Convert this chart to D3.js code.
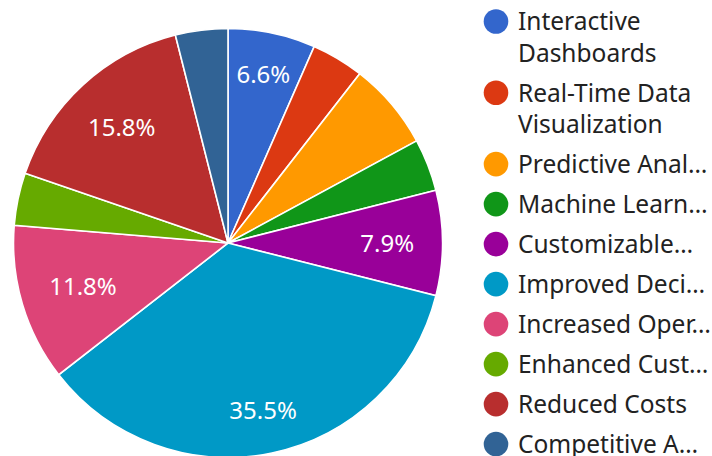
<!DOCTYPE html>
<html>
  <head>
    <meta charset="utf-8">
    <title>Benefits pie</title>
    <script src="https://cdnjs.cloudflare.com/ajax/libs/d3/7.8.5/d3.min.js"></script>
    <style>
      body { margin: 0; background: #fff; }
      svg text { font-family: "Noto Sans", "Open Sans", sans-serif; }
    </style>
  </head>
  <body>
    <div id="chart"></div>
    <script>
      var categories = ['Interactive Dashboards', 'Real-Time Data Visualization', 'Predictive Analytics',
                        'Machine Learning Integration', 'Customizable Widgets', 'Improved Decision Making',
                        'Increased Operational Efficiency', 'Enhanced Customer Insights', 'Reduced Costs',
                        'Competitive Advantage'];
      var counts = [5, 3, 5, 3, 6, 27, 9, 3, 12, 3];
      var colors = ['#3366cc', '#dc3912', '#ff9900', '#109618', '#990099',
                    '#0099c6', '#dd4477', '#66aa00', '#b82e2e', '#316395'];
      // google hides the text on slices it can't fit a label into
      var noLabel = ['Predictive Analytics'];

      var width = 712, height = 456;
      var cx = 228, cy = 243, radius = 214.5;
      var fontSize = 24;
      var legendSize = 24.5;

      var svg = d3.select('#chart').append('svg').attr('width', width).attr('height', height);

      var data = categories.map(function(c, i) { return {name: c, value: counts[i], color: colors[i]}; });
      var total = d3.sum(counts);

      var pie = d3.pie().sort(null).value(function(d) { return d.value; });
      var arc = d3.arc().innerRadius(0).outerRadius(radius);
      var arcs = pie(data);

      var g = svg.append('g').attr('transform', 'translate(' + cx + ',' + cy + ')');

      g.selectAll('path.slice').data(arcs).enter().append('path')
        .attr('class', 'slice')
        .attr('d', arc)
        .attr('fill', function(d) { return d.data.color; })
        .attr('stroke', '#fff').attr('stroke-width', 1.6);

      var fmt = d3.format('.1%');
      arcs.forEach(function(d) {
        var share = d.data.value / total;
        if (share < 0.05 || noLabel.indexOf(d.data.name) >= 0) return;
        var t = g.append('text').attr('fill', '#fff').style('font-size', fontSize + 'px')
                 .attr('text-anchor', 'middle').attr('dy', '0.36em').text(fmt(share));
        var w = t.node().getComputedTextLength();
        var mid = (d.startAngle + d.endAngle) / 2;
        var ux = Math.sin(mid), uy = -Math.cos(mid);
        // pull the box in so its outer side sits on a fixed ring
        var half = Math.abs(ux) * w / 2 + Math.abs(uy) * fontSize * 0.36;
        var r = radius * 0.868 - half;
        t.attr('x', ux * r).attr('y', uy * r);
      });

      // legend
      var lx = 496, tx = 518, maxW = 194;
      var lineH = 31.3, entryH = 40, extraLines = 2;
      var y = 21.5;
      var legend = svg.append('g');

      data.forEach(function(d) {
        legend.append('circle').attr('cx', lx).attr('cy', y).attr('r', 12.3).attr('fill', d.color);
        var t = legend.append('text').attr('x', tx).attr('y', y).attr('dy', '0.36em')
                      .attr('fill', '#222').style('font-size', legendSize + 'px').text(d.name);
        if (t.node().getComputedTextLength() <= maxW) { y += entryH; return; }

        var words = d.name.split(' ');
        if (extraLines > 0) {
          // try two lines
          var first = words[0], k = 1;
          t.text(first);
          while (k < words.length) {
            t.text(first + ' ' + words[k]);
            if (t.node().getComputedTextLength() > maxW) break;
            first += ' ' + words[k]; k++;
          }
          var rest = words.slice(k).join(' ');
          t.text(first);
          var t2 = legend.append('text').attr('x', tx).attr('y', y + lineH).attr('dy', '0.36em')
                         .attr('fill', '#222').style('font-size', legendSize + 'px').text(rest);
          if (t2.node().getComputedTextLength() <= maxW) {
            extraLines--;
            y += entryH + lineH;
            return;
          }
          t2.remove();
        }
        var s = d.name;
        t.text(s + '…');
        while (s.length > 1 && t.node().getComputedTextLength() > maxW) {
          s = s.slice(0, -1).replace(/\s+$/, '');
          t.text(s + '…');
        }
        y += entryH;
      });
    </script>
  </body>
</html>
